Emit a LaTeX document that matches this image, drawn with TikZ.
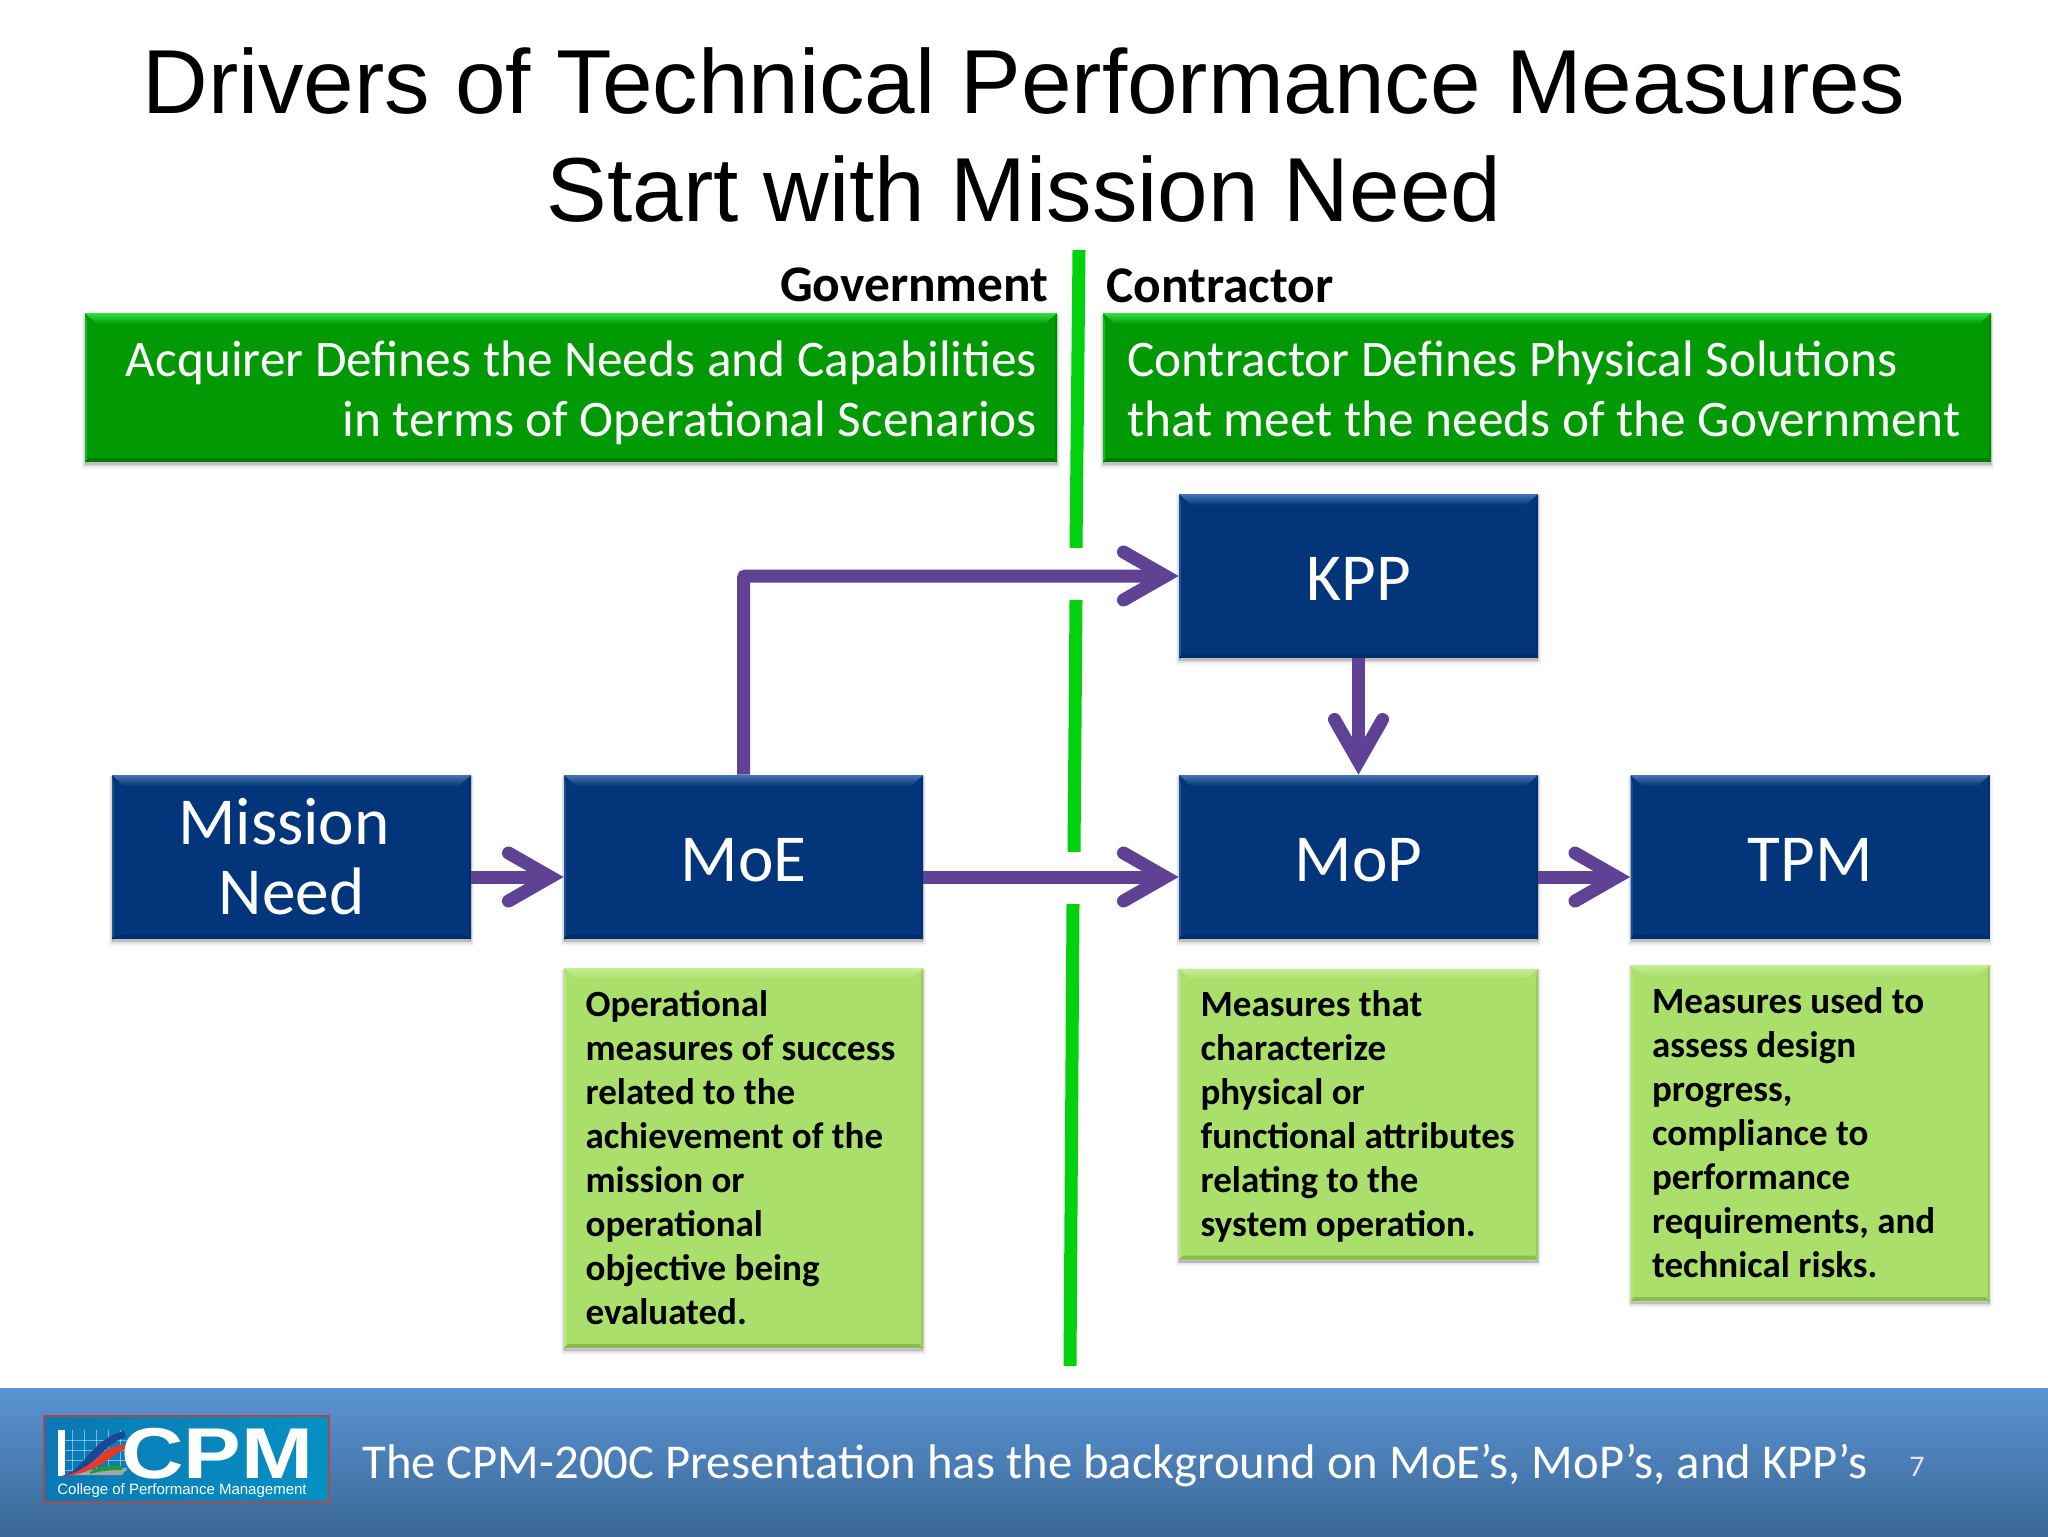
\documentclass[tikz,border=0pt]{standalone}
\usepackage{fontspec}
\setmainfont{Carlito}
\newfontfamily\arialfont{Liberation Sans}
\usetikzlibrary{arrows.meta,calc}
\definecolor{navy}{HTML}{03357A}
\definecolor{navytop}{HTML}{4474B4}
\definecolor{navybot}{HTML}{022C66}
\definecolor{hgreen}{HTML}{019A05}
\definecolor{hgreentop}{HTML}{30E044}
\definecolor{hgreenbot}{HTML}{017A03}
\definecolor{lgreen}{HTML}{AADF6B}
\definecolor{lgreentop}{HTML}{C8EE93}
\definecolor{lgreenbot}{HTML}{8BBB50}
\definecolor{divider}{HTML}{02D10E}
\definecolor{flow}{HTML}{5F4293}
\definecolor{bandtop}{RGB}{91,147,211}
\definecolor{bandbot}{RGB}{58,104,150}
\definecolor{logoframe}{RGB}{170,75,75}
\definecolor{logoleft}{RGB}{10,120,180}
\definecolor{logoright}{RGB}{6,145,195}
\definecolor{logoblue}{RGB}{25,70,150}
\definecolor{logogreen}{RGB}{30,150,70}
\definecolor{logored}{RGB}{225,60,40}
% struts that fix where the text block sits in its box
\newcommand{\upstrut}[1]{\rule{0pt}{#1pt}}
\newcommand{\downstrut}[1]{\rule[-#1pt]{0pt}{#1pt}}
\tikzset{
  softshadow/.style={
    preaction={draw=black,fill=black,opacity=.04,line width=3pt,transform canvas={yshift=-1.8pt}},
    preaction={draw=black,fill=black,opacity=.06,line width=1.8pt,transform canvas={yshift=-1.5pt}},
    preaction={draw=black,fill=black,opacity=.08,line width=.6pt,transform canvas={yshift=-1.2pt}}},
  bevel/.style n args={3}{softshadow,fill=#1,
    path picture={
      \coordinate (NW) at (path picture bounding box.north west);
      \coordinate (NE) at (path picture bounding box.north east);
      \coordinate (SW) at (path picture bounding box.south west);
      \coordinate (SE) at (path picture bounding box.south east);
      \fill[#2!45!#1] (NW) -- ($(NW)+(1pt,-5pt)$) -- ($(SW)+(1pt,2pt)$) -- (SW) -- cycle;
      \fill[#3!60!#1] (NE) -- ($(NE)+(-1pt,-5pt)$) -- ($(SE)+(-1pt,2pt)$) -- (SE) -- cycle;
      \shade[top color=#2,bottom color=#1] (NW) -- (NE) -- ($(NE)+(-6pt,-5.5pt)$) -- ($(NW)+(6pt,-5.5pt)$) -- cycle;
      \fill[#3] (SW) -- (SE) -- ($(SE)+(-2pt,2pt)$) -- ($(SW)+(2pt,2pt)$) -- cycle;
    }},
  navybox/.style={bevel={navy}{navytop}{navybot},text=white,align=flush center,inner sep=0pt,
    minimum width=179.5pt,minimum height=82pt,
    font=\fontsize{33.6}{35.25}\selectfont},
  headbox/.style={bevel={hgreen}{hgreentop}{hgreenbot},text=white,inner xsep=10pt,inner ysep=0pt,
    minimum height=74.5pt,font=\fontsize{25.65}{30}\selectfont},
  notebox/.style={bevel={lgreen}{lgreentop}{lgreenbot},text=black,inner xsep=10.8pt,inner ysep=0pt,
    minimum width=179.5pt,text width=157.9pt,align=flush left,
    font=\fontsize{18.5}{22.05}\selectfont\bfseries},
  sidelabel/.style={font=\fontsize{25.7}{30}\selectfont\bfseries,text=black,inner sep=0pt},
  divline/.style={draw=divider,line width=6.5pt},
  flowline/.style={draw=flow,line width=6.5pt,
    -{Straight Barb[length=21pt,width=24pt,line cap=round]}},
}
\newcommand{\navytext}[1]{\upstrut{30}\downstrut{5.4}#1}
\begin{document}
\begin{tikzpicture}[x=0.5pt,y=-0.5pt]
\useasboundingbox (0,0) rectangle (2048,1536);
\fill[white] (0,0) rectangle (2048,1536);

% title
\node[name=title,font=\arialfont\fontsize{45.45}{54}\selectfont,align=flush center,inner sep=0pt,text=black]
  at (1024,135) {Drivers of Technical Performance Measures\\Start with Mission Need};

% divider
\coordinate (d1a) at (1079,250); \coordinate (d1b) at (1076,548);
\coordinate (d2a) at (1076,600); \coordinate (d2b) at (1074,852);
\coordinate (d3a) at (1073,904); \coordinate (d3b) at (1070,1366);
\draw[divline] (d1a) -- (d1b);
\draw[divline] (d2a) -- (d2b);
\draw[divline] (d3a) -- (d3b);

% side labels
\node[sidelabel,anchor=base east,name=govlabel] at (1049,301) {Government};
\node[sidelabel,anchor=base west,name=conlabel] at (1106,302) {Contractor};

% header boxes
\node[headbox,name=acq,minimum width=486pt,text width=466pt,align=flush right] at (571,387.5)
  {\upstrut{24.5}Acquirer Defines the Needs and Capabilities\\in terms of Operational Scenarios\downstrut{6}};
\node[headbox,name=con,minimum width=444pt,inner xsep=12pt,text width=420pt,align=flush left] at (1547,387.5)
  {\upstrut{24.5}Contractor Defines Physical Solutions\\that meet the needs of the Government\downstrut{6}};

% navy boxes
\node[navybox,name=kpp] at (1358.5,576) {\navytext{KPP}};
\node[navybox,name=need] at (291.5,857) {\upstrut{30}Mission\hspace*{7.5pt}\\Need\downstrut{7.5}};
\node[navybox,name=moe] at (743.5,857) {\navytext{MoE}};
\node[navybox,name=mop] at (1358.5,857) {\navytext{MoP}};
\node[navybox,name=tpm] at (1810,857) {\navytext{TPM}};

% notes
\node[notebox,name=noteE,minimum height=190pt] at (743.5,1158)
  {\upstrut{17}Operational\\measures of success\\related to the\\achievement of the\\mission or\\operational\\objective being\\evaluated.\downstrut{4.5}};
\node[notebox,name=noteP,minimum height=145.5pt] at (1358.5,1114)
  {\upstrut{17}Measures that\\characterize\\physical or\\functional attributes\\relating to the\\system operation.\downstrut{4.5}};
\node[notebox,name=noteT,minimum height=168pt] at (1810,1133)
  {\upstrut{17}Measures used to\\assess design\\progress,\\compliance to\\performance\\requirements, and\\technical risks.\downstrut{4.5}};

% connectors
\coordinate (row) at (0,877);
\draw[flowline,rounded corners=1pt] (moe.north) |- (kpp.west);
\draw[flowline] (kpp.south) -- (mop.north);
\draw[flowline] (need.east |- row) -- (moe.west |- row);
\draw[flowline] (moe.east |- row) -- (mop.west |- row);
\draw[flowline] (mop.east |- row) -- (tpm.west |- row);

% footer
\shade[top color=bandtop,bottom color=bandbot] (0,1388) rectangle (2048,1536);

% logo
\draw[draw=logoframe,line width=1.2pt,left color=logoleft,right color=logoright]
  (44,1416) rectangle (329,1502);
\foreach \gx in {72,84,96,108,120}{\draw[white,opacity=.45,line width=.5pt] (\gx,1430) -- (\gx,1475);}
\foreach \gy in {1440,1450,1460,1470}{\draw[white,opacity=.45,line width=.5pt] (65,\gy) -- (127,\gy);}
\fill[white] (58,1430) rectangle (65,1476);
\fill[gray!70] (62,1475) -- (122,1475) -- (127,1468) -- (90,1470) -- cycle;
\fill[logoblue] (62,1476) .. controls (85,1470) and (90,1440) .. (124,1431) -- (126,1437) .. controls (100,1445) and (95,1470) .. (66,1476) -- cycle;
\fill[logogreen] (90,1472) .. controls (100,1466) and (112,1464) .. (122,1466) -- (122,1470) .. controls (110,1470) and (100,1471) .. (90,1474) -- cycle;
\fill[logored] (62,1477) .. controls (85,1470) and (95,1460) .. (104,1452) .. controls (112,1446) and (122,1444) .. (134,1444) -- (128,1449) .. controls (112,1450) and (110,1470) .. (62,1477) -- cycle;
\node[name=logocpm,font=\arialfont\fontsize{36}{36}\selectfont\bfseries,text=white,xscale=1.2,inner sep=0pt,anchor=base,text depth=0pt]
  at (217,1478) {CPM};
\node[name=logotext,font=\arialfont\fontsize{7.5}{9}\selectfont,text=white,inner sep=0pt,anchor=base]
  at (182,1494) {College of Performance Management};

\node[name=footnote,font=\fontsize{24.33}{29}\selectfont,text=white,inner sep=0pt,anchor=base west]
  at (362,1478) {The CPM-200C Presentation has the background on MoE’s, MoP’s, and KPP’s};
\node[name=pageno,font=\fontsize{15}{18}\selectfont,text=white!90!blue,inner sep=0pt,anchor=base]
  at (1917,1476) {7};
\end{tikzpicture}
\end{document}
